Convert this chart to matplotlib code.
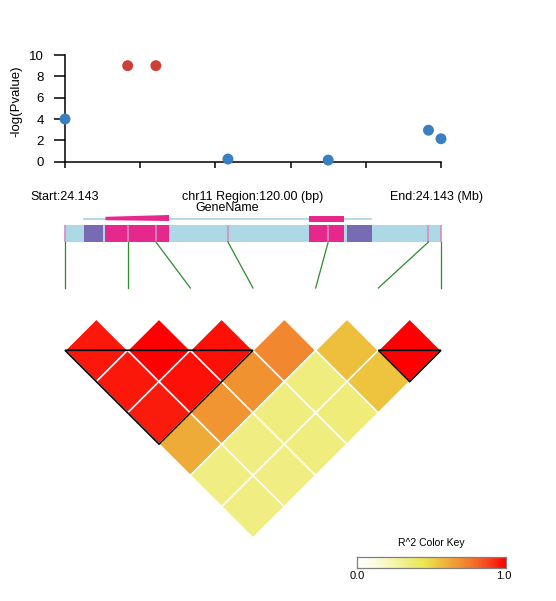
import numpy as np
import matplotlib
matplotlib.use('Agg')
import matplotlib.pyplot as plt
from matplotlib.patches import Polygon, Rectangle
from matplotlib.colors import LinearSegmentedColormap

plt.rcParams['font.family'] = ['Liberation Sans', 'DejaVu Sans']

# ---------------- data ----------------
snp_pos = [0, 20, 29, 52, 84, 116, 120]            # bp offset within region
neglogp = [4.0, 9.0, 9.0, 0.25, 0.15, 2.95, 2.15]  # -log(Pvalue)
sig_threshold = 5.0

# LD r^2, upper triangle: ld_r2[i][k] = r2(snp i, snp i+k+1)
ld_r2 = [
    [0.96, 0.96, 0.95, 0.62, 0.34, 0.34],
    [1.00, 0.97, 0.68, 0.34, 0.34],
    [0.97, 0.69, 0.35, 0.35],
    [0.72, 0.35, 0.36],
    [0.56, 0.55],
    [1.00],
]
ld_blocks = [(0, 3), (5, 6)]

region_start, region_end = 0, 120
start_label = 'Start:24.143'
region_label = 'chr11 Region:120.00 (bp)'
end_label = 'End:24.143 (Mb)'
gene_name = 'GeneName'
gene_span = (5.7, 97.9)
utr_exons = [(6.1, 12.1), (89.9, 97.9)]
cds_exons = [(12.9, 33.2), (78.0, 89.0)]
key_title = 'R^2 Color Key'
key_ticks = ['0.0', '1.0']

# ---------------- styles ----------------
blue = '#3A7FC1'
red = '#CD3F37'
bar_col = '#ADD8E6'
utr_col = '#776BB4'
cds_col = '#E6288C'
green = '#2E8B2E'
cmap = LinearSegmentedColormap.from_list('ld', [
    (0.00, (1.00, 1.00, 1.00)),
    (0.12, (252/255, 252/255, 225/255)),
    (0.25, (246/255, 246/255, 170/255)),
    (0.35, (239/255, 237/255, 126/255)),
    (0.45, (236/255, 232/255, 80/255)),
    (0.55, (238/255, 195/255, 62/255)),
    (0.65, (240/255, 160/255, 52/255)),
    (0.75, (242/255, 125/255, 45/255)),
    (0.87, (245/255, 75/255, 35/255)),
    (1.00, (1.0, 0.0, 0.0)),
])

W, H = 556, 601
fig = plt.figure(figsize=(W/100, H/100), dpi=100)

def fax(x0, y0, x1, y1):
    return fig.add_axes([x0/W, 1 - y1/H, (x1 - x0)/W, (y1 - y0)/H])

# ---------------- association scatter ----------------
ax = fax(65, 55, 441, 161.7)
ax.set_xlim(region_start, region_end)
ax.set_ylim(0, 10)
cols = [red if v > sig_threshold else blue for v in neglogp]
ax.scatter(snp_pos, neglogp, s=62, c=cols, linewidths=0, clip_on=False, zorder=3)
for s in ['top', 'right']:
    ax.spines[s].set_visible(False)
for s in ['left', 'bottom']:
    ax.spines[s].set_linewidth(1.1)
ax.set_xticks(np.linspace(region_start, region_end, 6))
ax.set_xticklabels([])
ax.set_yticks(np.arange(0, 11, 2))
ax.tick_params(axis='y', length=8, width=1.1, pad=7, labelsize=9.5)
ax.tick_params(axis='x', length=4, width=1.1)
fig.text(16/W, 1 - 101/H, '-log(Pvalue)', rotation=90, ha='center', va='center',
         fontsize=9.5)

# ---------------- labels ----------------
fig.text(65/W, 1 - 197/H, start_label, ha='center', va='center', fontsize=9)
fig.text(253/W, 1 - 197/H, region_label, ha='center', va='center', fontsize=9)
fig.text(437/W, 1 - 197/H, end_label, ha='center', va='center', fontsize=9)

# ---------------- gene track ----------------
tr = fax(65, 210, 441, 290)
tr.set_xlim(region_start, region_end)
tr.set_ylim(80, 0)
tr.axis('off')
tr.text(np.mean(gene_span), -2, gene_name, ha='center', va='center', fontsize=9, clip_on=False)
tr.plot(gene_span, [9, 9], color='#A9D6E0', lw=1.2, solid_capstyle='butt', zorder=1)
# strand wedge over first coding exon, rectangle over second
c0 = cds_exons[0]
tr.add_patch(Polygon([(c0[0], 6.8), (c0[1], 5.0), (c0[1], 11.0), (c0[0], 10.2)],
                     closed=True, facecolor=cds_col, edgecolor='none', zorder=2))
c1 = cds_exons[1]
tr.add_patch(Rectangle((c1[0], 5.7), c1[1] - c1[0], 6.0, facecolor=cds_col,
                       edgecolor='none', zorder=2))
# main bar
tr.add_patch(Rectangle((region_start, 15), region_end - region_start, 17,
                       facecolor=bar_col, edgecolor='none', zorder=2))
for a, b in utr_exons:
    tr.add_patch(Rectangle((a, 15), b - a, 17, facecolor=utr_col, edgecolor='none', zorder=3))
for a, b in cds_exons:
    tr.add_patch(Rectangle((a, 15), b - a, 17, facecolor=cds_col, edgecolor='none', zorder=3))
for p in snp_pos:
    tr.plot([p, p], [15, 32], color='#D68CC4', lw=1.2, solid_capstyle='butt',
            zorder=4, clip_on=False)
# connectors
n = len(snp_pos)
even = np.linspace(region_start, region_end, n)
for p, e in zip(snp_pos, even):
    tr.plot([p, e], [32, 78], color=green, lw=0.9, clip_on=False, zorder=4)

# ---------------- LD heatmap ----------------
hm = fax(65, 319, 441, 538)
hm.set_xlim(0, n - 1)
hm.set_ylim(3.5, 0)
hm.axis('off')
for i, row in enumerate(ld_r2):
    for k, v in enumerate(row):
        j = i + k + 1
        cx, cy = (i + j) / 2, (j - i) / 2
        hm.add_patch(Polygon([(cx, cy - 0.5), (cx + 0.5, cy), (cx, cy + 0.5), (cx - 0.5, cy)],
                             closed=True, facecolor=cmap(v), edgecolor='white',
                             lw=1.1, clip_on=False))
for a, b in ld_blocks:
    hm.add_patch(Polygon([(a, 0.5), (b, 0.5), ((a + b) / 2, (b - a) / 2 + 0.5)],
                         closed=True, fill=False, edgecolor='black', lw=1.2,
                         clip_on=False, zorder=5))

# ---------------- color key ----------------
ck = fax(357, 557, 506, 568)
ck.imshow(np.linspace(0, 1, 256)[None, :], cmap=cmap, aspect='auto',
          extent=[0, 1, 0, 1], vmin=0, vmax=1)
ck.set_xticks([])
ck.set_yticks([])
for s in ck.spines.values():
    s.set_color('#808080')
    s.set_linewidth(0.9)
fig.text(431/W, 1 - 543/H, key_title, ha='center', va='center', fontsize=7.5)
fig.text(357/W, 1 - 576/H, key_ticks[0], ha='center', va='center', fontsize=8)
fig.text(504/W, 1 - 576/H, key_ticks[1], ha='center', va='center', fontsize=8)

fig.savefig('out.png', dpi=100)
